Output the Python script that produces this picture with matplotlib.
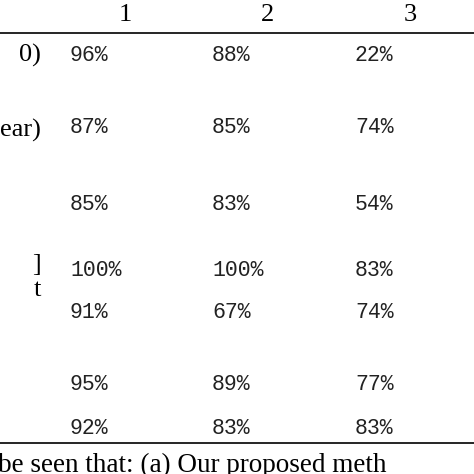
import matplotlib.pyplot as plt

headers = ['1', '2', '3']
header_x = [125, 268, 410]
left_labels = ['0)', 'ear)', '', ']', 't', '', '']
col1 = ['96%', '87%', '85%', '100%', '91%', '95%', '92%']
col2 = ['88%', '85%', '83%', '100%', '67%', '89%', '83%']
col3 = ['22%', '74%', '54%', '83%', '74%', '77%', '83%']
row_y = [55, 127, 205, 270, 313, 385, 428]
label_y = [55, 130, 205, 265, 290, 385, 428]
col_x = [70, 212, 355]

W = H = 474
fig = plt.figure(figsize=(W / 100, H / 100), dpi=100)
ax = fig.add_axes([0, 0, 1, 1])
ax.set_xlim(0, W)
ax.set_ylim(H, 0)
ax.axis('off')

serif = 'Liberation Serif'
mono = 'Liberation Mono'

for h, x in zip(headers, header_x):
    ax.text(x, 15, h, fontsize=19, family=serif, ha='center', va='center')
ax.plot([0, W], [33, 33], color='black', lw=1.2)

for lab, y in zip(left_labels, label_y):
    if lab:
        ax.text(41, y, lab, fontsize=19, family=serif, ha='right', va='center')

for x, col in zip(col_x, [col1, col2, col3]):
    for v, y in zip(col, row_y):
        ax.text(x, y, v, fontsize=15.5, family=mono, ha='left', va='center',
                color='#222222')

ax.plot([0, W], [443, 443], color='black', lw=1.2)
ax.text(-2, 465, 'be seen that: (a) Our proposed meth', fontsize=19.5,
        family=serif, ha='left', va='center')

fig.savefig('out.png', dpi=100)
